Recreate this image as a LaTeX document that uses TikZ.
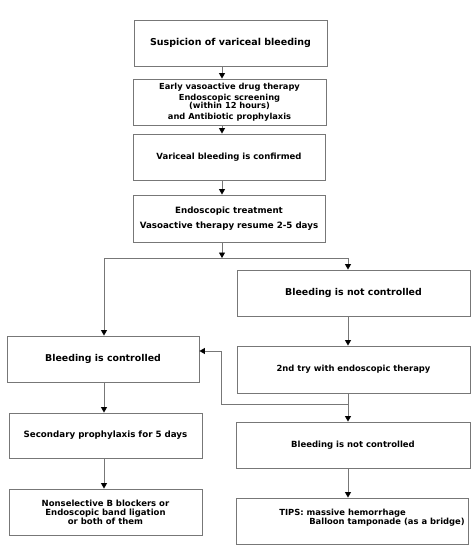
\documentclass[tikz,border=0pt]{standalone}
\usepackage{fontspec}
\setmainfont{DejaVu Sans}
\usetikzlibrary{arrows.meta}
\definecolor{linegray}{HTML}{777777}
\newcommand{\fs}[1]{\fontsize{#1}{10}\selectfont\bfseries}
\begin{document}
\begin{tikzpicture}[x=1pt,y=-1pt,
  box/.style={draw=linegray,line width=0.9pt,inner sep=0pt,align=center,
    font=\fs{8.5}},
  txt/.style={inner sep=0pt,align=left,font=\fs{8.4}},
  conn/.style={draw=linegray,line width=0.9pt},
  arr/.style={conn,-{Triangle[length=5.5pt,width=6pt,color=black]}}]
\useasboundingbox[fill=white] (0,0) rectangle (474,549);
\node[box,font=\fs{9.5},minimum width=193pt,minimum height=46pt] (b1) at (230.5,43) {Suspicion of variceal bleeding};
\node[box,font=\fs{8.3},minimum width=193pt,minimum height=46pt] (b2) at (229.5,102) {Early vasoactive drug therapy\\[1pt]Endoscopic screening\\[-2pt](within 12 hours)\\[1pt]and Antibiotic prophylaxis};
\node[box,font=\fs{8.5},minimum width=192pt,minimum height=46pt] (b3) at (229,157) {Variceal bleeding is confirmed};
\node[box,font=\fs{8.7},minimum width=192pt,minimum height=47pt] (b4) at (229,218.5) {Endoscopic treatment\\[5pt]Vasoactive therapy resume 2-5 days};
\node[box,font=\fs{9.4},minimum width=233pt,minimum height=46pt] (r1) at (353.5,293) {Bleeding is not controlled};
\node[box,font=\fs{8.4},minimum width=233pt,minimum height=47pt] (r2) at (353.5,369.5) {2nd try with endoscopic therapy};
\node[box,font=\fs{9.4},minimum width=192pt,minimum height=46pt] (l1) at (103,359) {Bleeding is controlled};
\node[box,font=\fs{8.7},minimum width=193pt,minimum height=45pt] (l2) at (105.5,435.5) {Secondary prophylaxis for 5 days};
\node[box,font=\fs{8.5},minimum width=193pt,minimum height=46pt] (l3) at (105.5,512) {Nonselective B blockers or\\[-1pt]Endoscopic band ligation\\[-1pt]or both of them};
\node[box,font=\fs{8.5},minimum width=234pt,minimum height=46pt] (r3) at (353,445) {Bleeding is not controlled};
\node[box,minimum width=232pt,minimum height=46pt] (r4) at (352,521) {};
\node[txt] (r4t) at (372,518) {TIPS: massive hemorrhage\\[-1pt]\hspace*{30pt}Balloon tamponade (as a bridge)};
\coordinate (ax) at (222,0);
\coordinate (brC) at (222,258);
\coordinate (brL) at (104,258);
\coordinate (brR) at (348,258);
\coordinate (fb1) at (348,404);
\coordinate (fb2) at (221,404);
\coordinate (fb3) at (221,351);
\draw[arr] (b1.south -| ax) -- (b2.north -| ax);
\draw[arr] (b2.south -| ax) -- (b3.north -| ax);
\draw[arr] (b3.south -| ax) -- (b4.north -| ax);
\draw[arr] (b4.south -| ax) -- (brC);
\draw[conn] (brL) -- (brR);
\draw[arr] (brL) -- (l1.north -| brL);
\draw[arr] (brR) -- (r1.north -| brR);
\draw[arr] (r1.south -| brR) -- (r2.north -| brR);
\draw[arr] (r2.south -| brR) -- (r3.north -| brR);
\draw[arr] (r3.south -| brR) -- (r4.north -| brR);
\draw[arr] (fb1) -- (fb2) -- (fb3) -- (l1.east |- fb3);
\draw[arr] (l1.south -| brL) -- (l2.north -| brL);
\draw[arr] (l2.south -| brL) -- (l3.north -| brL);
\end{tikzpicture}
\end{document}
